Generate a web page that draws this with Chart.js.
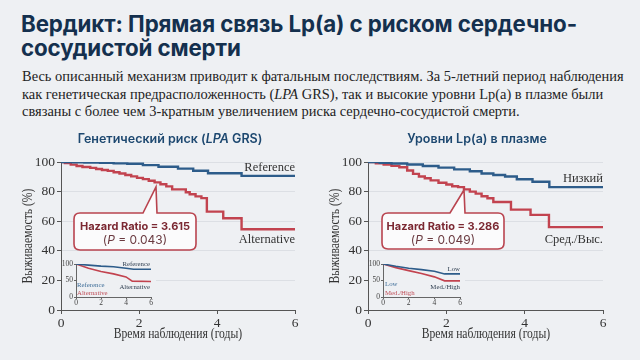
<!DOCTYPE html>
<html><head><meta charset="utf-8">
<script src="https://cdn.jsdelivr.net/npm/chart.js@4.4.1/dist/chart.umd.min.js"></script>
<style>
html,body{margin:0;padding:0;}
body{width:640px;height:360px;background:#eef0f3;position:relative;overflow:hidden;font-family:"Liberation Serif",serif;}
.abs{position:absolute;white-space:nowrap;}
#title{left:21px;top:12px;font:700 22.3px Inter,sans-serif;line-height:24px;color:#14304e;letter-spacing:-0.1px;}
#para{left:22px;top:68px;font:14.45px "Liberation Serif",serif;line-height:17.5px;color:#222;}
canvas{position:absolute;}
.ct{font:600 12.5px Inter,sans-serif;color:#1d4870;line-height:1;transform:translate(-50%,-50%);}
.lab{font:12.5px "Liberation Serif",serif;color:#333;line-height:1;transform:translateY(-50%);}
.ax{font:14px "Liberation Serif",serif;color:#333;line-height:1;transform:translate(-50%,-50%) scaleX(0.83);}
.ay{font:14px "Liberation Serif",serif;color:#333;line-height:1;transform:translate(-50%,-50%) rotate(-90deg) scaleX(0.83);}
.hr{font:700 11px Inter,sans-serif;color:#7b2832;line-height:1;transform:translate(-50%,-50%);}
.pv{font:12px Inter,sans-serif;color:#6a3a40;line-height:1;transform:translate(-50%,-50%);}
.il{font:6.8px "Liberation Serif",serif;line-height:1;transform:translateY(-50%);}
</style>
</head><body>
<div id="title" class="abs">Вердикт: Прямая связь Lp(a) с риском сердечно-<br>сосудистой смерти</div>
<div id="para" class="abs">Весь описанный механизм приводит к фатальным последствиям. За 5-летний период наблюдения<br>как генетическая предрасположенность (<i>LPA</i> GRS), так и высокие уровни Lp(a) в плазме были<br>связаны с более чем 3-кратным увеличением риска сердечно-сосудистой смерти.</div>

<canvas id="cL" width="320" height="222" style="left:0;top:128px"></canvas>
<canvas id="cR" width="320" height="222" style="left:320px;top:128px"></canvas>
<canvas id="iL" width="94" height="54" style="left:62px;top:256px"></canvas>
<canvas id="iR" width="96" height="54" style="left:369px;top:256px"></canvas>

<div class="abs ct" style="left:170px;top:139px">Генетический риск (<i>LPA</i> GRS)</div>
<div class="abs ct" style="left:477px;top:139px">Уровни Lp(a) в плазме</div>

<div class="abs ay" style="left:28px;top:236px">Выживаемость (%)</div>
<div class="abs ay" style="left:335px;top:236px">Выживаемость (%)</div>
<div class="abs ax" style="left:178px;top:334px">Время наблюдения (годы)</div>
<div class="abs ax" style="left:486px;top:334px">Время наблюдения (годы)</div>

<div class="abs lab" style="right:345px;top:167px">Reference</div>
<div class="abs lab" style="right:345px;top:239px">Alternative</div>
<div class="abs lab" style="right:37px;top:178px">Низкий</div>
<div class="abs lab" style="right:37px;top:239px">Сред./Выс.</div>

<div class="abs hr" style="left:135px;top:226px">Hazard Ratio = 3.615</div>
<div class="abs pv" style="left:135px;top:240px">(<i>P</i> = 0.043)</div>
<div class="abs hr" style="left:443px;top:226px">Hazard Ratio = 3.286</div>
<div class="abs pv" style="left:443px;top:240px">(<i>P</i> = 0.049)</div>

<div class="abs il" style="right:490px;top:264px;color:#2f3e50">Reference</div>
<div class="abs il" style="right:490px;top:287px;color:#2f3e50">Alternative</div>
<div class="abs il" style="left:77px;top:285px;color:#3f6e99">Reference</div>
<div class="abs il" style="left:77px;top:292.5px;color:#c0505a">Alternative</div>
<div class="abs il" style="right:180px;top:269px;color:#2f3e50">Low</div>
<div class="abs il" style="right:180px;top:287px;color:#2f3e50">Med./High</div>
<div class="abs il" style="left:385px;top:284px;color:#3f6e99">Low</div>
<div class="abs il" style="left:385px;top:292.5px;color:#c0505a">Med./High</div>

<script>
// ---- data ----
const yTicksMain = [0, 20, 40, 60, 80, 100];
const xTicksMain = [0, 2, 4, 6];
const yTicksInset = [0, 50, 100];
const xTicksInset = [0, 2, 4, 6];

// Left: genetic risk (LPA GRS)
const refTime = [0, 0.3, 0.6, 1.0, 1.35, 1.7, 2.1, 2.5, 3.0, 3.39, 3.77, 4.63, 6];
const refSurv = [100, 99.8, 99.6, 99.4, 99.1, 98.8, 97.9, 96.8, 95.5, 94.1, 92.4, 90.6, 90.6];
const altTime = [0, 0.1, 0.25, 0.4, 0.55, 0.75, 0.9, 1.05, 1.2, 1.35, 1.5, 1.65, 1.8, 1.95, 2.1, 2.25, 2.4, 2.55, 2.7, 2.85, 3.2, 3.3, 3.45, 3.6, 3.74, 4.16, 4.63, 6];
const altSurv = [100, 99.3, 98.2, 97.3, 96.6, 96.0, 95.3, 94.6, 94.0, 93.1, 92.2, 91.2, 90.3, 89.3, 88.4, 87.3, 86.2, 85.0, 83.5, 81.5, 79.6, 78.2, 76.8, 75.6, 66.5, 62.0, 54.6, 54.6];

// Right: plasma Lp(a) levels
const lowTime = [0, 0.3, 0.6, 1.0, 1.4, 1.8, 2.2, 2.6, 2.9, 3.2, 3.5, 3.8, 4.2, 4.63, 6];
const lowSurv = [100, 99.5, 99.0, 98.3, 97.3, 96.2, 95.0, 93.7, 92.2, 91.2, 90.2, 88.3, 86.7, 83.0, 83.0];
const medTime = [0, 0.2, 0.4, 0.6, 0.8, 1.0, 1.15, 1.3, 1.45, 1.6, 1.8, 2.0, 2.15, 2.3, 2.45, 2.6, 2.75, 2.9, 3.05, 3.2, 3.65, 4.15, 4.62, 6];
const medSurv = [100, 99.2, 98.2, 97.4, 96.5, 94.3, 92.0, 90.2, 89.0, 87.6, 86.0, 84.8, 83.6, 83.0, 81.5, 80.0, 78.6, 76.9, 75.5, 73.0, 67.8, 64.3, 56.0, 56.0];

// Insets
const insRefTime = [0, 1, 2, 3, 4, 4.6, 6];
const insRefSurv = [100, 96.5, 93.5, 91.5, 87, 84, 84];
const insAltTime = [0, 1, 2, 3, 4, 4.5, 6];
const insAltSurv = [100, 87, 77, 70, 61, 48, 47];
const insLowTime = [0, 1, 2, 3, 4, 4.8, 6];
const insLowSurv = [100, 93, 87, 83, 78, 70, 70];
const insMedTime = [0, 1, 2, 3, 4, 4.8, 6];
const insMedSurv = [100, 89, 80, 71, 61, 49, 49];

// ---- styling ----
const BLUE = '#2d5c8a', RED = '#c2434f', BG = '#eef0f3';
const pts = (t, s) => t.map((x, i) => ({x, y: s[i]}));

function bubble(box) {
  return {
    id: 'bubble',
    afterDatasetsDraw(chart) {
      const c = chart.ctx, b = box, r = 6;
      c.save();
      c.beginPath();
      c.moveTo(b.x1 + r, b.y1);
      c.lineTo(b.t1, b.y1);
      c.lineTo(b.ax, b.ay);
      c.lineTo(b.t2, b.y1);
      c.lineTo(b.x2 - r, b.y1);
      c.quadraticCurveTo(b.x2, b.y1, b.x2, b.y1 + r);
      c.lineTo(b.x2, b.y2 - r);
      c.quadraticCurveTo(b.x2, b.y2, b.x2 - r, b.y2);
      c.lineTo(b.x1 + r, b.y2);
      c.quadraticCurveTo(b.x1, b.y2, b.x1, b.y2 - r);
      c.lineTo(b.x1, b.y1 + r);
      c.quadraticCurveTo(b.x1, b.y1, b.x1 + r, b.y1);
      c.closePath();
      c.fillStyle = '#fbfbfc';
      c.fill();
      c.lineWidth = 1.6;
      c.strokeStyle = '#b9444f';
      c.stroke();
      c.restore();
    }
  };
}

const bgPlugin = {
  id: 'bg',
  beforeDraw(chart) {
    const c = chart.ctx;
    c.save(); c.fillStyle = BG; c.fillRect(0, 0, chart.width, chart.height); c.restore();
  }
};

function mainChart(id, d1, d2, yW, pad, box) {
  return new Chart(document.getElementById(id), {
    type: 'line',
    data: {
      datasets: [
        {data: d1, borderColor: BLUE, borderWidth: 2.4, pointRadius: 0, stepped: true, fill: false},
        {data: d2, borderColor: RED, borderWidth: 2.4, pointRadius: 0, stepped: true, fill: false}
      ]
    },
    options: {
      responsive: false, animation: false, devicePixelRatio: 1,
      layout: {padding: pad},
      plugins: {legend: {display: false}, tooltip: {enabled: false}},
      scales: {
        x: {
          type: 'linear', min: 0, max: 6,
          afterBuildTicks: s => { s.ticks = xTicksMain.map(v => ({value: v})); },
          afterFit: s => { s.height = 40; },
          ticks: {padding: 1, color: '#333', font: {family: '"Liberation Serif", serif', size: 13.5}},
          grid: {drawOnChartArea: false, drawTicks: true, tickLength: 4, tickColor: '#555'},
          border: {display: true, color: '#555', width: 1}
        },
        y: {
          min: 0, max: 100,
          afterBuildTicks: s => { s.ticks = yTicksMain.map(v => ({value: v})); },
          afterFit: s => { s.width = yW; },
          ticks: {padding: 2, color: '#333', font: {family: '"Liberation Serif", serif', size: 13.5}},
          grid: {color: '#dcdfe4', lineWidth: 1, drawTicks: true, tickLength: 4, tickColor: '#555'},
          border: {display: true, color: '#555', width: 1}
        }
      }
    },
    plugins: [bubble(box)]
  });
}

function insetChart(id, d1, d2, rightPad) {
  return new Chart(document.getElementById(id), {
    type: 'line',
    data: {
      datasets: [
        {data: d1, borderColor: BLUE, borderWidth: 1.6, pointRadius: 0, fill: false, tension: 0},
        {data: d2, borderColor: RED, borderWidth: 1.6, pointRadius: 0, fill: false, tension: 0}
      ]
    },
    options: {
      responsive: false, animation: false, devicePixelRatio: 1,
      layout: {padding: {left: 0, top: 8, right: rightPad, bottom: 0}},
      plugins: {legend: {display: false}, tooltip: {enabled: false}},
      scales: {
        x: {
          type: 'linear', min: 0, max: 6,
          afterBuildTicks: s => { s.ticks = xTicksInset.map(v => ({value: v})); },
          afterFit: s => { s.height = 13; },
          ticks: {padding: 0, color: '#444', font: {family: '"Liberation Serif", serif', size: 7.5}},
          grid: {drawOnChartArea: false, drawTicks: true, tickLength: 2, tickColor: '#666'},
          border: {display: true, color: '#666', width: 1}
        },
        y: {
          min: 0, max: 100,
          afterBuildTicks: s => { s.ticks = yTicksInset.map(v => ({value: v})); },
          afterFit: s => { s.width = 14; },
          ticks: {padding: 1, color: '#444', font: {family: '"Liberation Serif", serif', size: 7.5}},
          grid: {drawOnChartArea: false, drawTicks: true, tickLength: 2, tickColor: '#666'},
          border: {display: true, color: '#666', width: 1}
        }
      }
    },
    plugins: [bgPlugin]
  });
}

mainChart('cL', pts(refTime, refSurv), pts(altTime, altSurv), 61,
  {left: 0, top: 34, right: 25, bottom: 0},
  {x1: 74, y1: 85, x2: 196, y2: 122, t1: 143, t2: 157, ax: 156, ay: 59});
mainChart('cR', pts(lowTime, lowSurv), pts(medTime, medSurv), 48,
  {left: 0, top: 34, right: 37, bottom: 0},
  {x1: 62, y1: 85, x2: 184, y2: 121, t1: 130, t2: 145, ax: 144, ay: 62});
insetChart('iL', pts(insRefTime, insRefSurv), pts(insAltTime, insAltSurv), 5);
insetChart('iR', pts(insLowTime, insLowSurv), pts(insMedTime, insMedSurv), 5);
</script>
</body></html>
